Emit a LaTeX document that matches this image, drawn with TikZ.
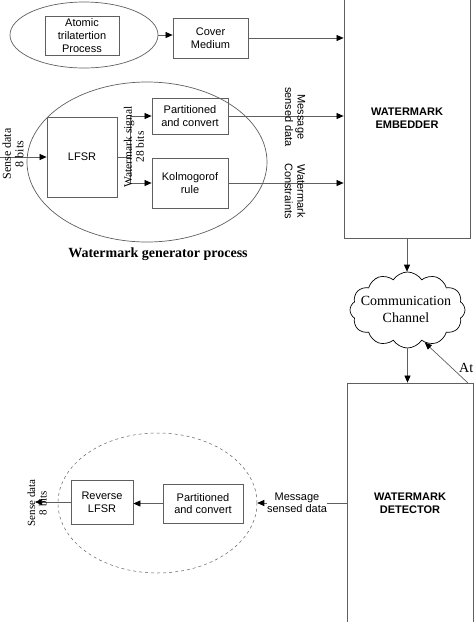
\documentclass[tikz,border=0pt]{standalone}
\usepackage{fontspec}
\setmainfont{Liberation Serif}
\setsansfont{Liberation Sans}
\usetikzlibrary{arrows.meta,shapes.geometric,shapes.symbols}
\definecolor{ln}{RGB}{95,95,95}
\tikzset{
  box/.style={draw=ln, line width=0.8pt, rectangle, align=center, inner sep=1pt,
    font=\sffamily\fontsize{11}{12.7}\selectfont},
  bigbox/.style={draw=ln, line width=0.8pt, rectangle, align=center,
    font=\sffamily\bfseries\fontsize{11}{13}\selectfont},
  oval/.style={draw=ln, line width=0.7pt, ellipse, inner sep=0pt},
  arr/.style={draw=ln, line width=0.7pt, -{Triangle[length=7pt,width=6pt,fill=black,color=black]}},
  ln/.style={draw=ln, line width=0.7pt},
  serlab/.style={font=\rmfamily\fontsize{12}{12.5}\selectfont, align=center, inner sep=0pt},
  sanlab/.style={font=\sffamily\fontsize{11}{12.5}\selectfont, align=center, inner sep=0pt},
}
\begin{document}
\begin{tikzpicture}[x=1pt,y=-1pt]
\useasboundingbox (0,0) rectangle (474,622);
\clip (0,0) rectangle (474,622);
% top group
\node[oval, minimum width=148pt, minimum height=66pt] (ell1) at (84,35) {};
\node[box, minimum width=74pt, minimum height=39pt] (atom) at (82,35.5) {Atomic\\trilatertion\\Process};
\node[box, minimum width=75pt, minimum height=40pt] (cover) at (210.5,38) {Cover\\Medium};
\node[bigbox, minimum width=126pt, minimum height=240pt] (emb) at (407,118) {WATERMARK\\EMBEDDER};
\draw[arr] (ell1.east) -- (ell1.east -| cover.west);
\draw[arr] (cover.east) -- (cover.east -| emb.west);
% generator
\node[oval, minimum width=240pt, minimum height=160pt] (ell2) at (147,162) {};
\node[box, minimum width=70pt, minimum height=80pt] (lfsr) at (82,157) {LFSR};
\node[box, minimum width=76pt, minimum height=36pt] (part1) at (190,116) {Partitioned\\and convert};
\node[box, minimum width=76pt, minimum height=50pt] (kolm) at (190,183) {Kolmogorof\\rule};
\coordinate (sin) at (0,157);
\coordinate (jm) at (130,157);
\coordinate (jt) at (130,116);
\coordinate (jb) at (130,183);
\draw[arr] (sin) -- (lfsr.west);
\draw[ln] (lfsr.east) -- (jm);
\draw[ln] (jt) -- (jb);
\draw[arr] (jt) -- (part1.west);
\draw[arr] (jb) -- (kolm.west);
\draw[arr] (part1.east) -- (part1.east -| emb.west);
\draw[arr] (kolm.east) -- (kolm.east -| emb.west);
\node[serlab, rotate=90] (sd1) at (13,154) {Sense data\\8 bits};
\node[serlab, rotate=90, font=\rmfamily\fontsize{11.5}{12}\selectfont] (wms) at (134,147) {Watermark signal\\28 bits};
\node[sanlab, rotate=-90] (msd1) at (295,117) {Message\\sensed data};
\node[sanlab, rotate=-90] (wmc) at (295,191) {Watermark\\Constraints};
\node[font=\rmfamily\bfseries\fontsize{14}{16}\selectfont, inner sep=0pt] (cap) at (158,254) {Watermark generator process};
% channel
\node[cloud, draw=black, line width=0.7pt, cloud puffs=12, cloud puff arc=115, cloud ignores aspect,
  minimum width=115pt, minimum height=76pt, inner sep=0pt] (cloud) at (407.5,310) {};
\node[align=center, inner sep=0pt, font=\rmfamily\fontsize{14}{17}\selectfont] (cloudtxt) at (406,309) {Communication\\Channel};
\node[bigbox, minimum width=126pt, minimum height=240pt] (det) at (410,503) {WATERMARK\\DETECTOR};
\draw[arr] (emb.south) -- (emb.south |- cloud.north);
\draw[arr] (cloud.south) -- (cloud.south |- det.north);
\coordinate (atk) at (468,383);
\draw[arr] (atk) -- (cloud.-62);
\node[font=\rmfamily\fontsize{14}{16}\selectfont, inner sep=0pt, anchor=west] (attl) at (459,368) {At};
% detector side
\node[oval, dashed, line width=0.5pt, minimum width=199pt, minimum height=140pt] (ell3) at (157.5,503) {};
\node[box, minimum width=62pt, minimum height=44pt] (rev) at (102,502) {Reverse\\LFSR};
\node[box, minimum width=80pt, minimum height=39pt] (part2) at (203,503.5) {Partitioned\\and convert};
\coordinate (sout) at (35,502);
\draw[arr] (det.west) -- (ell3.east);
\draw[arr] (part2.west) -- (part2.west -| rev.east);
\draw[arr] (rev.west) -- (sout);
\node[sanlab, fill=white, inner sep=0.5pt] (msd2) at (297,503) {Message\\sensed data};
\node[serlab, rotate=90, font=\rmfamily\fontsize{11}{11.5}\selectfont] (sd2) at (37,503) {Sense data\\8 bits};
\end{tikzpicture}
\end{document}
